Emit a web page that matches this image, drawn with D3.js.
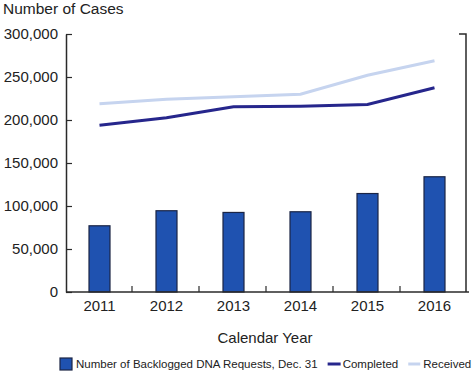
<!DOCTYPE html>
<html>
<head>
<meta charset="utf-8">
<script src="https://cdn.jsdelivr.net/npm/d3@7"></script>
<style>
  html, body { margin: 0; padding: 0; background: #fff; }
  svg { display: block; font-family: "Liberation Sans", Arial, sans-serif; }
</style>
</head>
<body>
<svg id="chart" width="474" height="374"></svg>
<script>
const years = ["2011", "2012", "2013", "2014", "2015", "2016"];
const backlog = [77000, 94500, 92500, 93300, 114500, 134000];
const completed = [194000, 202500, 215500, 216000, 218000, 237500];
const received = [219000, 224000, 227000, 230000, 252000, 269000];
const yTicks = [0, 50000, 100000, 150000, 200000, 250000, 300000];
const legendLabels = ["Number of Backlogged DNA Requests, Dec. 31", "Completed", "Received"];
const titleText = "Number of Cases";
const xTitleText = "Calendar Year";

const colBar = "#1f52b0", colBarStroke = "#1b2545";
const colCompleted = "#26268c", colReceived = "#c6d4ef";
const axisCol = "#2a2a2a", textCol = "#222";

const svg = d3.select("#chart");
const pLeft = 66, pRight = 466, pTop = 34, pBottom = 292;

const x = d3.scaleBand().domain(years).range([pLeft, 468]).padding(0);
const y = d3.scaleLinear().domain([0, 300000]).range([pBottom, pTop]);
const barW = 21;
const cx = d => x(d) + x.bandwidth() / 2;

// Title
svg.append("text").attr("x", 3).attr("y", 14)
  .attr("font-size", 15.5).attr("fill", textCol).text(titleText);

// Bars
svg.append("g").selectAll("rect").data(years).join("rect")
  .attr("x", (d) => cx(d) - barW / 2)
  .attr("y", (d, i) => y(backlog[i]))
  .attr("width", barW)
  .attr("height", (d, i) => y(0) - y(backlog[i]))
  .attr("fill", colBar).attr("stroke", colBarStroke).attr("stroke-width", 1.2);

// Lines
const line = d3.line().x(d => cx(d[0])).y(d => y(d[1]));
svg.append("path").datum(years.map((yr, i) => [yr, received[i]]))
  .attr("d", line).attr("fill", "none").attr("stroke", colReceived).attr("stroke-width", 3);
svg.append("path").datum(years.map((yr, i) => [yr, completed[i]]))
  .attr("d", line).attr("fill", "none").attr("stroke", colCompleted).attr("stroke-width", 3);

// Y axis (ticks inward)
const yAxis = d3.axisLeft(y).tickValues(yTicks).tickFormat(d3.format(",")).tickSizeInner(-6).tickSizeOuter(0).tickPadding(8);
const gy = svg.append("g").attr("transform", `translate(${pLeft},0)`).call(yAxis);
gy.select(".domain").attr("stroke", axisCol).attr("stroke-width", 1.5);
gy.selectAll(".tick line").attr("stroke", axisCol).attr("stroke-width", 1.2);
gy.selectAll(".tick text").attr("font-size", 15).attr("fill", textCol).attr("font-family", "Liberation Sans, Arial, sans-serif");

// Right frame line with top tick
svg.append("path").attr("d", `M${pRight - 7},${pTop}H${pRight}V${pBottom}`)
  .attr("fill", "none").attr("stroke", axisCol).attr("stroke-width", 1.5);

// X baseline
svg.append("line").attr("x1", pLeft).attr("x2", pRight + 3).attr("y1", pBottom).attr("y2", pBottom)
  .attr("stroke", axisCol).attr("stroke-width", 1.5);

// X boundary ticks (pointing up)
svg.append("g").selectAll("line").data(years.slice(1)).join("line")
  .attr("x1", d => x(d) - 1).attr("x2", d => x(d) - 1)
  .attr("y1", pBottom).attr("y2", pBottom - 6)
  .attr("stroke", axisCol).attr("stroke-width", 1.2);

// X labels
const xAxis = d3.axisBottom(x).tickSize(0).tickPadding(8);
const gx = svg.append("g").attr("transform", `translate(0,${pBottom})`).call(xAxis);
gx.select(".domain").remove();
gx.selectAll(".tick text").attr("font-size", 15).attr("fill", textCol).attr("font-family", "Liberation Sans, Arial, sans-serif");

// X title
svg.append("text").attr("x", 265).attr("y", 343).attr("text-anchor", "middle")
  .attr("font-size", 15).attr("fill", textCol).text(xTitleText);

// Legend
const lg = svg.append("g").attr("font-size", 11.5).attr("fill", textCol);
let lx = 60;
const ly = 364;
lg.append("rect").attr("x", lx).attr("y", ly - 6).attr("width", 12).attr("height", 12)
  .attr("fill", colBar).attr("stroke", colBarStroke).attr("stroke-width", 1.2);
lx += 16;
let t = lg.append("text").attr("x", lx).attr("y", ly + 4).text(legendLabels[0]);
lx += t.node().getComputedTextLength() + 10;
lg.append("line").attr("x1", lx).attr("x2", lx + 13).attr("y1", ly).attr("y2", ly)
  .attr("stroke", colCompleted).attr("stroke-width", 3);
lx += 15;
t = lg.append("text").attr("x", lx).attr("y", ly + 4).text(legendLabels[1]);
lx += t.node().getComputedTextLength() + 10;
lg.append("line").attr("x1", lx).attr("x2", lx + 12).attr("y1", ly).attr("y2", ly)
  .attr("stroke", colReceived).attr("stroke-width", 3);
lx += 15;
lg.append("text").attr("x", lx).attr("y", ly + 4).text(legendLabels[2]);
</script>
</body>
</html>
